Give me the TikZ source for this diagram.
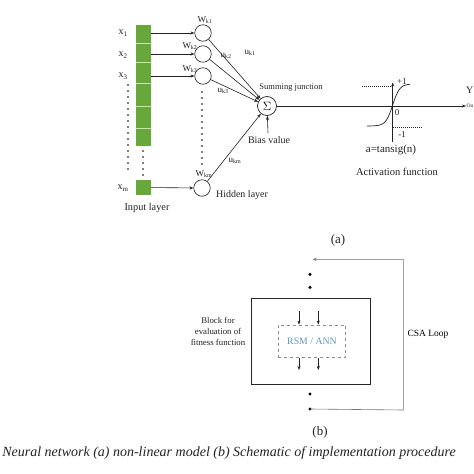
\documentclass[tikz,border=0pt]{standalone}
\usepackage{fontspec}
\setmainfont{Liberation Serif}
\usetikzlibrary{arrows.meta}
\definecolor{barg}{RGB}{104,168,58}
\definecolor{ln}{RGB}{35,35,35}
\definecolor{rsm}{RGB}{95,150,200}
\begin{document}
\begin{tikzpicture}[x=1pt,y=-1pt,
  lbl/.style={font=\fontsize{9}{10}\selectfont, inner sep=0, text=ln},
  big/.style={font=\fontsize{10.3}{11}\selectfont, inner sep=0, text=ln},
  xl/.style={font=\fontsize{10}{11}\selectfont, inner sep=0, text=ln},
  wl/.style={font=\fontsize{9}{10}\selectfont, inner sep=0, text=ln},
  hid/.style={circle, draw=ln, line width=0.6pt, minimum size=16.5pt, inner sep=0},
  arr/.style={draw=ln, line width=0.6pt, -{Stealth[length=4pt,width=3pt]}},
  ln06/.style={draw=ln, line width=0.6pt},
  dots/.style={draw=black, line width=1.6pt, line cap=round, dash pattern=on 0pt off 6pt},
  fine/.style={draw=ln, line width=0.5pt, dash pattern=on 0.8pt off 1.2pt},
  bdot/.style={circle, fill=black, minimum size=3.4pt, inner sep=0}]
\clip (0,0) rectangle (474,474);
\fill[white] (0,0) rectangle (474,474);

% ---------- input bar
\node[fill=barg, minimum width=14.5pt, minimum height=121pt, inner sep=0] (bar) at (143.25,85.5) {};
\foreach \a in {43.3,62.7,83.3,106,128.3}
  \draw[white!65!barg, line width=0.8pt] (136,\a) -- (150.5,\a);
\node[fill=barg, minimum width=14.5pt, minimum height=15pt, inner sep=0] (xmsq) at (143.25,187.5) {};
\draw[dots] (143,151) -- (143,176);
\draw[dots] (128,85) -- (128,172);

\node[xl] (x1) at (123,33) {x\textsubscript{1}};
\node[xl] (x2) at (123,55) {x\textsubscript{2}};
\node[xl] (x3) at (123,76) {x\textsubscript{3}};
\node[xl] (xm) at (123,188) {x\textsubscript{m}};
\node[big] (inl) at (147,208) {Input layer};

% ---------- hidden layer
\node[hid] (h1) at (203,33) {};
\node[hid] (h2) at (203,54) {};
\node[hid] (h3) at (203,76) {};
\node[hid] (hm) at (202,188) {};
\draw[dots] (202,92) -- (202,168);
\coordinate (b1) at (150.5,33);
\coordinate (b2) at (150.5,54);
\coordinate (b3) at (150.5,76);
\draw[arr] (b1) -- (h1);
\draw[arr] (b2) -- (h2);
\draw[arr] (b3) -- (h3);
\draw[arr] (xmsq) -- (hm);

\node[wl] (w1) at (205,20) {W\textsubscript{k1}};
\node[wl] (w2) at (190,46) {W\textsubscript{k2}};
\node[wl] (w3) at (190,69) {W\textsubscript{k3}};
\node[wl] (wm) at (204,174) {W\textsubscript{km}};
\node[big, font=\fontsize{10}{11}\selectfont] (hidl) at (242,195) {Hidden layer};

% ---------- summing junction
\node[circle, draw=ln, line width=0.7pt, minimum size=19pt, inner sep=0, font=\fontsize{12}{12}\selectfont] (sig) at (267,106) {$\Sigma$};
\draw[arr] (h1) -- (sig);
\draw[arr] (h2) -- (sig);
\draw[arr] (h3) -- (sig);
\draw[arr] (hm) -- (sig);
\node[lbl] (u1) at (250,53) {u\textsubscript{k1}};
\node[lbl] (u2) at (226,56) {u\textsubscript{k2}};
\node[lbl] (u3) at (223,91) {u\textsubscript{k3}};
\node[lbl] (um) at (235,161) {u\textsubscript{km}};
\node[lbl, font=\fontsize{8.5}{9}\selectfont] (sj) at (291,88) {Summing junction};
\coordinate (bias0) at (268,133);
\draw[arr] (bias0) -- (sig);
\node[big, font=\fontsize{10}{11}\selectfont] (bv) at (269,140) {Bias value};

% ---------- output and activation
\coordinate (out) at (466,106);
\draw[arr] (sig) -- (out);
\node[wl, anchor=west, font=\fontsize{10}{11}\selectfont] (yl) at (466,90) {Y};
\node[lbl, anchor=west, font=\fontsize{5.5}{7}\selectfont] (outl) at (466.5,106) {Ou};

\coordinate (ax0) at (392.7,142);
\coordinate (ax1) at (392.7,82.5);
\draw[arr] (ax0) -- (ax1);
\draw[ln06, line width=0.7pt] plot[domain=-25.7:17.3, samples=60] ({392.7+\x},{105-21*tanh(\x/7)});
\draw[fine] (362,86) -- (392,86);
\draw[fine] (393,127) -- (422,127);
\node[lbl] (p1) at (402,82) {+1};
\node[lbl] (z0) at (397,113) {0};
\node[lbl] (m1) at (402,135) {-1};
\node[big, font=\fontsize{11}{12}\selectfont] (ts) at (391,150) {a=tansig(n)};
\node[big, font=\fontsize{10.5}{12}\selectfont] (af) at (397,172) {Activation function};

\node[inner sep=0, font=\fontsize{13}{14}\selectfont, text=ln] (la) at (338,240) {(a)};

% ---------- part (b)
\node[draw=black!85, line width=1pt, minimum width=119pt, minimum height=86pt, inner sep=0] (fbox) at (311.2,341.3) {};
\node[draw=black!45, dashed, line width=0.7pt, minimum width=67.4pt, minimum height=32.7pt, inner sep=0, text=rsm, font=\fontsize{9.8}{10}\selectfont] (dash) at (312,341.3) {RSM / ANN};
\coordinate (i1) at (299,311);
\coordinate (i2) at (318.3,311);
\coordinate (o1) at (299,370);
\coordinate (o2) at (318.3,370);
\draw[arr] (i1) -- (i1 |- dash.north);
\draw[arr] (i2) -- (i2 |- dash.north);
\draw[arr] (o1 |- dash.south) -- (o1);
\draw[arr] (o2 |- dash.south) -- (o2);

\node[bdot] (d1) at (310,274.3) {};
\node[bdot] (d2) at (310,287.3) {};
\node[bdot] (d3) at (310,394) {};
\node[bdot] (d4) at (310,409) {};
\coordinate (lb) at (403.3,410);
\coordinate (lr) at (403.3,259.3);
\coordinate (lt) at (312.7,259.3);
\draw[draw=black!55, line width=0.6pt, -{Stealth[length=4pt,width=3pt]}] (d4.center) -- (lb) -- (lr) -- (lt);
\node[lbl, font=\fontsize{9.5}{10}\selectfont, text=black] (csa) at (428,334) {CSA Loop};
\node[lbl, align=center, font=\fontsize{8.8}{11.2}\selectfont] (blk) at (218,331.5) {Block for\\evaluation of\\fitness function};

\node[inner sep=0, font=\fontsize{13}{14}\selectfont, text=ln] (lbb) at (320,432) {(b)};
\node[inner sep=0, font=\fontsize{14}{15}\itshape, text=ln] (cap) at (229,453) {Neural network (a) non-linear model (b) Schematic of implementation procedure};
\end{tikzpicture}
\end{document}
